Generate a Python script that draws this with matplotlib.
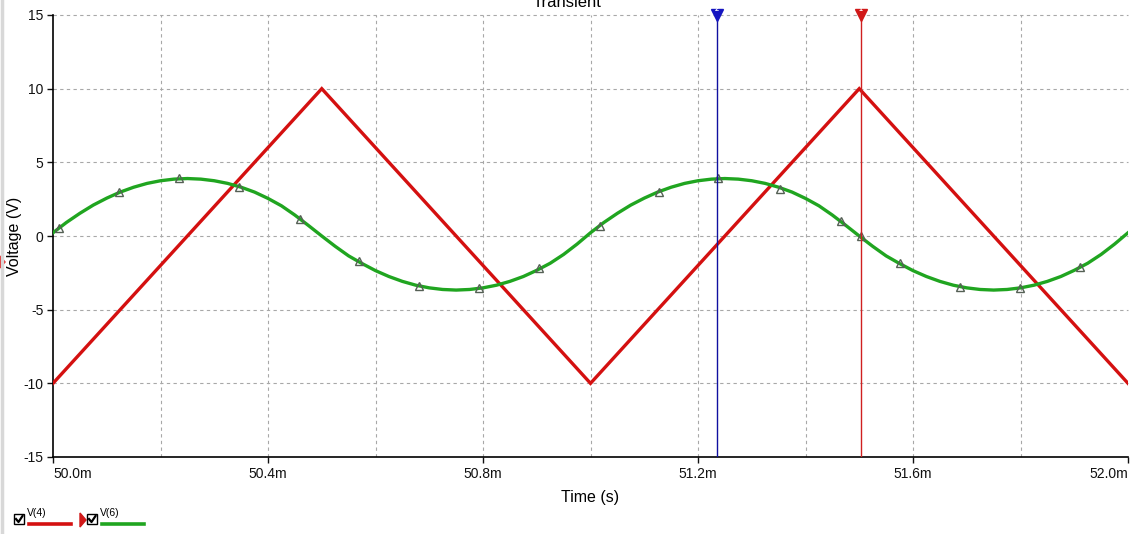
import numpy as np
import matplotlib
matplotlib.use("Agg")
import matplotlib.pyplot as plt
from matplotlib.patches import Rectangle, Polygon
from matplotlib.lines import Line2D

plt.rcParams['font.family'] = ['Liberation Sans', 'DejaVu Sans']

# ---------------- data (time in ms) ----------------
red_t = [50.0, 50.5, 51.0, 51.5, 52.0]
red_v = [-10.0, 10.0, -10.0, 10.0, -10.0]

green_t = [50.0 + 0.025 * i for i in range(81)]
green_v = [
    0.22, 0.92, 1.54, 2.10, 2.57, 2.98, 3.31, 3.57, 3.75, 3.86,
    3.90, 3.86, 3.75, 3.57, 3.31, 2.98, 2.55, 2.05, 1.42, 0.72,
    0.00, -0.70, -1.35, -1.87, -2.35, -2.75, -3.08, -3.34, -3.52, -3.63,
    -3.67, -3.63, -3.52, -3.34, -3.08, -2.75, -2.33, -1.85, -1.25, -0.55,
    0.22, 0.92, 1.54, 2.10, 2.57, 2.98, 3.31, 3.57, 3.75, 3.86,
    3.90, 3.86, 3.75, 3.57, 3.31, 2.98, 2.55, 2.05, 1.42, 0.72,
    0.00, -0.70, -1.35, -1.87, -2.35, -2.75, -3.08, -3.34, -3.52, -3.63,
    -3.67, -3.63, -3.52, -3.34, -3.08, -2.75, -2.33, -1.85, -1.25, -0.55,
    0.22,
]

marker_t = [50.012, 50.123, 50.235, 50.346, 50.459, 50.569, 50.681, 50.793,
            50.904, 51.018, 51.127, 51.238, 51.352, 51.466, 51.503, 51.576,
            51.688, 51.799, 51.911]
marker_v = [0.52, 2.97, 3.92, 3.31, 1.18, -1.68, -3.40, -3.51, -2.16, 0.65,
            2.97, 3.92, 3.20, 1.02, 0.00, -1.86, -3.45, -3.51, -2.09]

cursor_blue_t = 51.235
cursor_red_t = 51.503

xtick_vals = [50.0, 50.4, 50.8, 51.2, 51.6, 52.0]
xtick_labels = ['50.0m', '50.4m', '50.8m', '51.2m', '51.6m', '52.0m']
xgrid_vals = [50.2, 50.4, 50.6, 50.8, 51.0, 51.2, 51.4, 51.6, 51.8]
ytick_vals = [-15, -10, -5, 0, 5, 10, 15]

RED = '#D41010'
GREEN = '#20A520'
GRIDC = '#A8A8A8'

W, H = 1132, 534
fig = plt.figure(figsize=(W / 100, H / 100), dpi=100)
ax = fig.add_axes([53 / W, (H - 457) / H, (1128 - 53) / W, (457 - 15) / H])
ax.set_xlim(50.0, 52.0)
ax.set_ylim(-15, 15)

# grid
for xv in xgrid_vals:
    ax.axvline(xv, color=GRIDC, lw=0.8, ls=(0, (3, 3)), zorder=1)
for yv in ytick_vals[1:]:
    ax.axhline(yv, color=GRIDC, lw=0.8, ls=(0, (3, 3)), zorder=1, clip_on=False)

# curves
ax.plot(red_t, red_v, color=RED, lw=2.4, zorder=3, solid_joinstyle='miter')
ax.plot(green_t, green_v, color=GREEN, lw=2.4, zorder=4)
ax.plot(marker_t, marker_v, ls='none', marker='^', ms=5.5, mfc='none',
        mec='#556055', mew=1.0, zorder=5)

# cursors
ax.axvline(cursor_blue_t, color='#1010A0', lw=1.0, zorder=6)
ax.axvline(cursor_red_t, color='#D02020', lw=1.0, zorder=6)
trans = ax.get_xaxis_transform()
ax.plot([cursor_blue_t], [1.0], marker='v', ms=8, color='#1515C0',
        transform=trans, clip_on=False, zorder=7)
ax.text(cursor_blue_t, 1.012, '2', color='white', fontsize=5, ha='center',
        va='center', transform=trans, fontweight='bold', zorder=8)
ax.plot([cursor_red_t], [1.0], marker='v', ms=8, color='#D01818',
        transform=trans, clip_on=False, zorder=7)
ax.text(cursor_red_t, 1.012, '1', color='white', fontsize=5, ha='center',
        va='center', transform=trans, fontweight='bold', zorder=8)

# spines and ticks
for s in ['top', 'right']:
    ax.spines[s].set_visible(False)
ax.spines['left'].set_linewidth(1.2)
ax.spines['bottom'].set_linewidth(1.2)
ax.set_yticks(ytick_vals)
ax.set_yticklabels([str(v) for v in ytick_vals])
ax.set_xticks(xtick_vals)
ax.set_xticklabels(xtick_labels)
ax.tick_params(axis='both', direction='out', length=4, width=1.0,
               labelsize=10, colors='#111111', pad=3)
labels = ax.get_xticklabels()
labels[0].set_ha('left')
labels[-1].set_ha('right')
ax.set_xlabel('Time (s)', fontsize=11.5, labelpad=7)
ax.set_ylabel('Voltage (V)', fontsize=11.5, labelpad=1)

# title (partially cut at top, as in the original)
fig.text(567 / W, (H - 7) / H, 'Transient', ha='center', va='baseline',
         fontsize=12)

# left border strip
fig.add_artist(Line2D([1.5 / W, 1.5 / W], [0, 1], color='#D8D8D8', lw=2.5,
                      transform=fig.transFigure))
# small red marker at left
fig.add_artist(Polygon([[0 / W, (H - 256) / H], [5 / W, (H - 262) / H],
                        [0 / W, (H - 268) / H]], closed=True, color='#E02020',
                       transform=fig.transFigure))

# bottom legend
def checkbox(x, y):
    fig.add_artist(Rectangle((x / W, (H - y - 10) / H), 10 / W, 10 / H,
                             fill=False, ec='black', lw=1.0,
                             transform=fig.transFigure))
    fig.add_artist(Line2D([(x + 2) / W, (x + 4.5) / W, (x + 8.5) / W],
                          [(H - y - 5) / H, (H - y - 8) / H, (H - y - 2) / H],
                          color='black', lw=1.6, transform=fig.transFigure))

checkbox(14, 514)
fig.text(27 / W, (H - 518) / H, 'V(4)', fontsize=7.5, ha='left', va='bottom')
fig.add_artist(Line2D([29 / W, 71 / W], [(H - 524) / H, (H - 524) / H],
                      color=RED, lw=2.6, transform=fig.transFigure))
fig.add_artist(Polygon([[80 / W, (H - 513) / H], [86 / W, (H - 520) / H],
                        [80 / W, (H - 527) / H]], closed=True, color='#D01818',
                       transform=fig.transFigure))
checkbox(87, 514)
fig.text(100 / W, (H - 518) / H, 'V(6)', fontsize=7.5, ha='left', va='bottom')
fig.add_artist(Line2D([102 / W, 144 / W], [(H - 524) / H, (H - 524) / H],
                      color=GREEN, lw=2.6, transform=fig.transFigure))

fig.savefig('out.png', dpi=100)
